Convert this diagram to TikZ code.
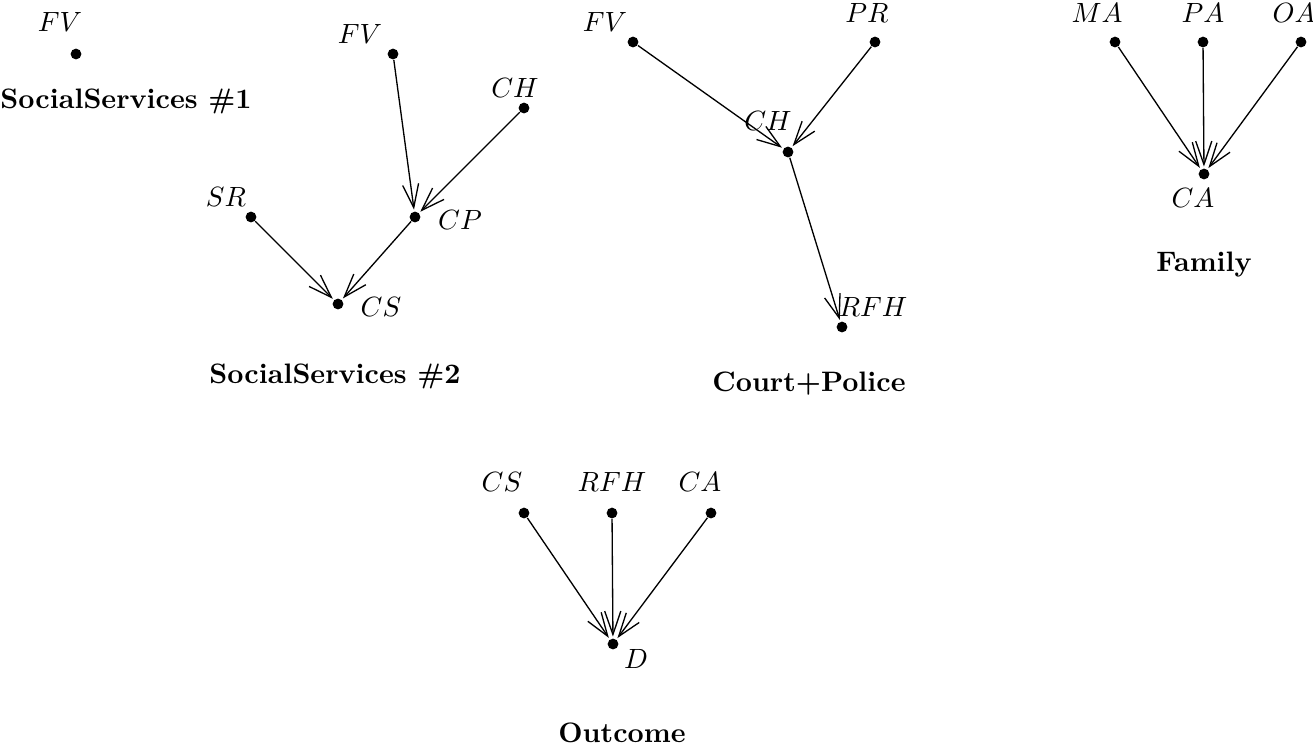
\documentclass[tikz,border=0pt]{standalone}
\usetikzlibrary{arrows.meta}
\begin{document}
\begin{tikzpicture}[x=0.012cm,y=-0.012cm,
 v/.style={circle,fill,inner sep=1.3pt},
 lab/.style={inner sep=0pt,scale=0.95},
 t/.style={font=\bfseries,inner sep=0pt,scale=0.96},
 e/.style={-{Straight Barb[length=8pt,width=5.5pt,line width=0.45pt]},line width=0.45pt,shorten >=0.5pt}]
\useasboundingbox (0,0) rectangle (1313,745);
% group 1
\node[v] (a1) at (76,54) {}; \node[lab] at (60,22) {$FV$};
\node[t] at (126,101) {SocialServices \#1};
% group 2
\node[v] (b1) at (393,54) {}; \node[lab] at (360,34) {$FV$};
\node[v] (b2) at (524,108) {}; \node[lab] at (515,88) {$CH$};
\node[v] (b3) at (251,217) {}; \node[lab] at (226,197) {$SR$};
\node[v] (b4) at (415,217) {}; \node[lab] at (460,220) {$CP$};
\node[v] (b5) at (338,304) {}; \node[lab] at (381,307) {$CS$};
\draw[e] (b1)--(b4); \draw[e] (b2)--(b4); \draw[e] (b3)--(b5); \draw[e] (b4)--(b5);
\node[t] at (335,376) {SocialServices \#2};
% group 3
\node[v] (c1) at (633,42) {}; \node[lab] at (605,22) {$FV$};
\node[v] (c2) at (875,42) {}; \node[lab] at (867,13) {$PR$};
\node[v] (c3) at (788,152) {}; \node[lab] at (768,121) {$CH$};
\node[v] (c4) at (842,327) {}; \node[lab] at (873,307) {$RFH$};
\draw[e] (c1)--(c3); \draw[e] (c2)--(c3); \draw[e] (c3)--(c4);
\node[t] at (809,384) {Court+Police};
% group 4
\node[v] (d1) at (1115,42) {}; \node[lab] at (1097,13) {$MA$};
\node[v] (d2) at (1203,42) {}; \node[lab] at (1203,13) {$PA$};
\node[v] (d3) at (1301,42) {}; \node[lab] at (1294,13) {$OA$};
\node[v] (d4) at (1204,174) {}; \node[lab] at (1193,198) {$CA$};
\draw[e] (d1)--(d4); \draw[e] (d2)--(d4); \draw[e] (d3)--(d4);
\node[t] at (1204,265) {Family};
% group 5
\node[v] (f1) at (524,513) {}; \node[lab] at (502,482) {$CS$};
\node[v] (f2) at (612,513) {}; \node[lab] at (612,482) {$RFH$};
\node[v] (f3) at (711,513) {}; \node[lab] at (700,482) {$CA$};
\node[v] (f4) at (613,644) {}; \node[lab] at (636,659) {$D$};
\draw[e] (f1)--(f4); \draw[e] (f2)--(f4); \draw[e] (f3)--(f4);
\node[t] at (622,733) {Outcome};
\end{tikzpicture}
\end{document}
